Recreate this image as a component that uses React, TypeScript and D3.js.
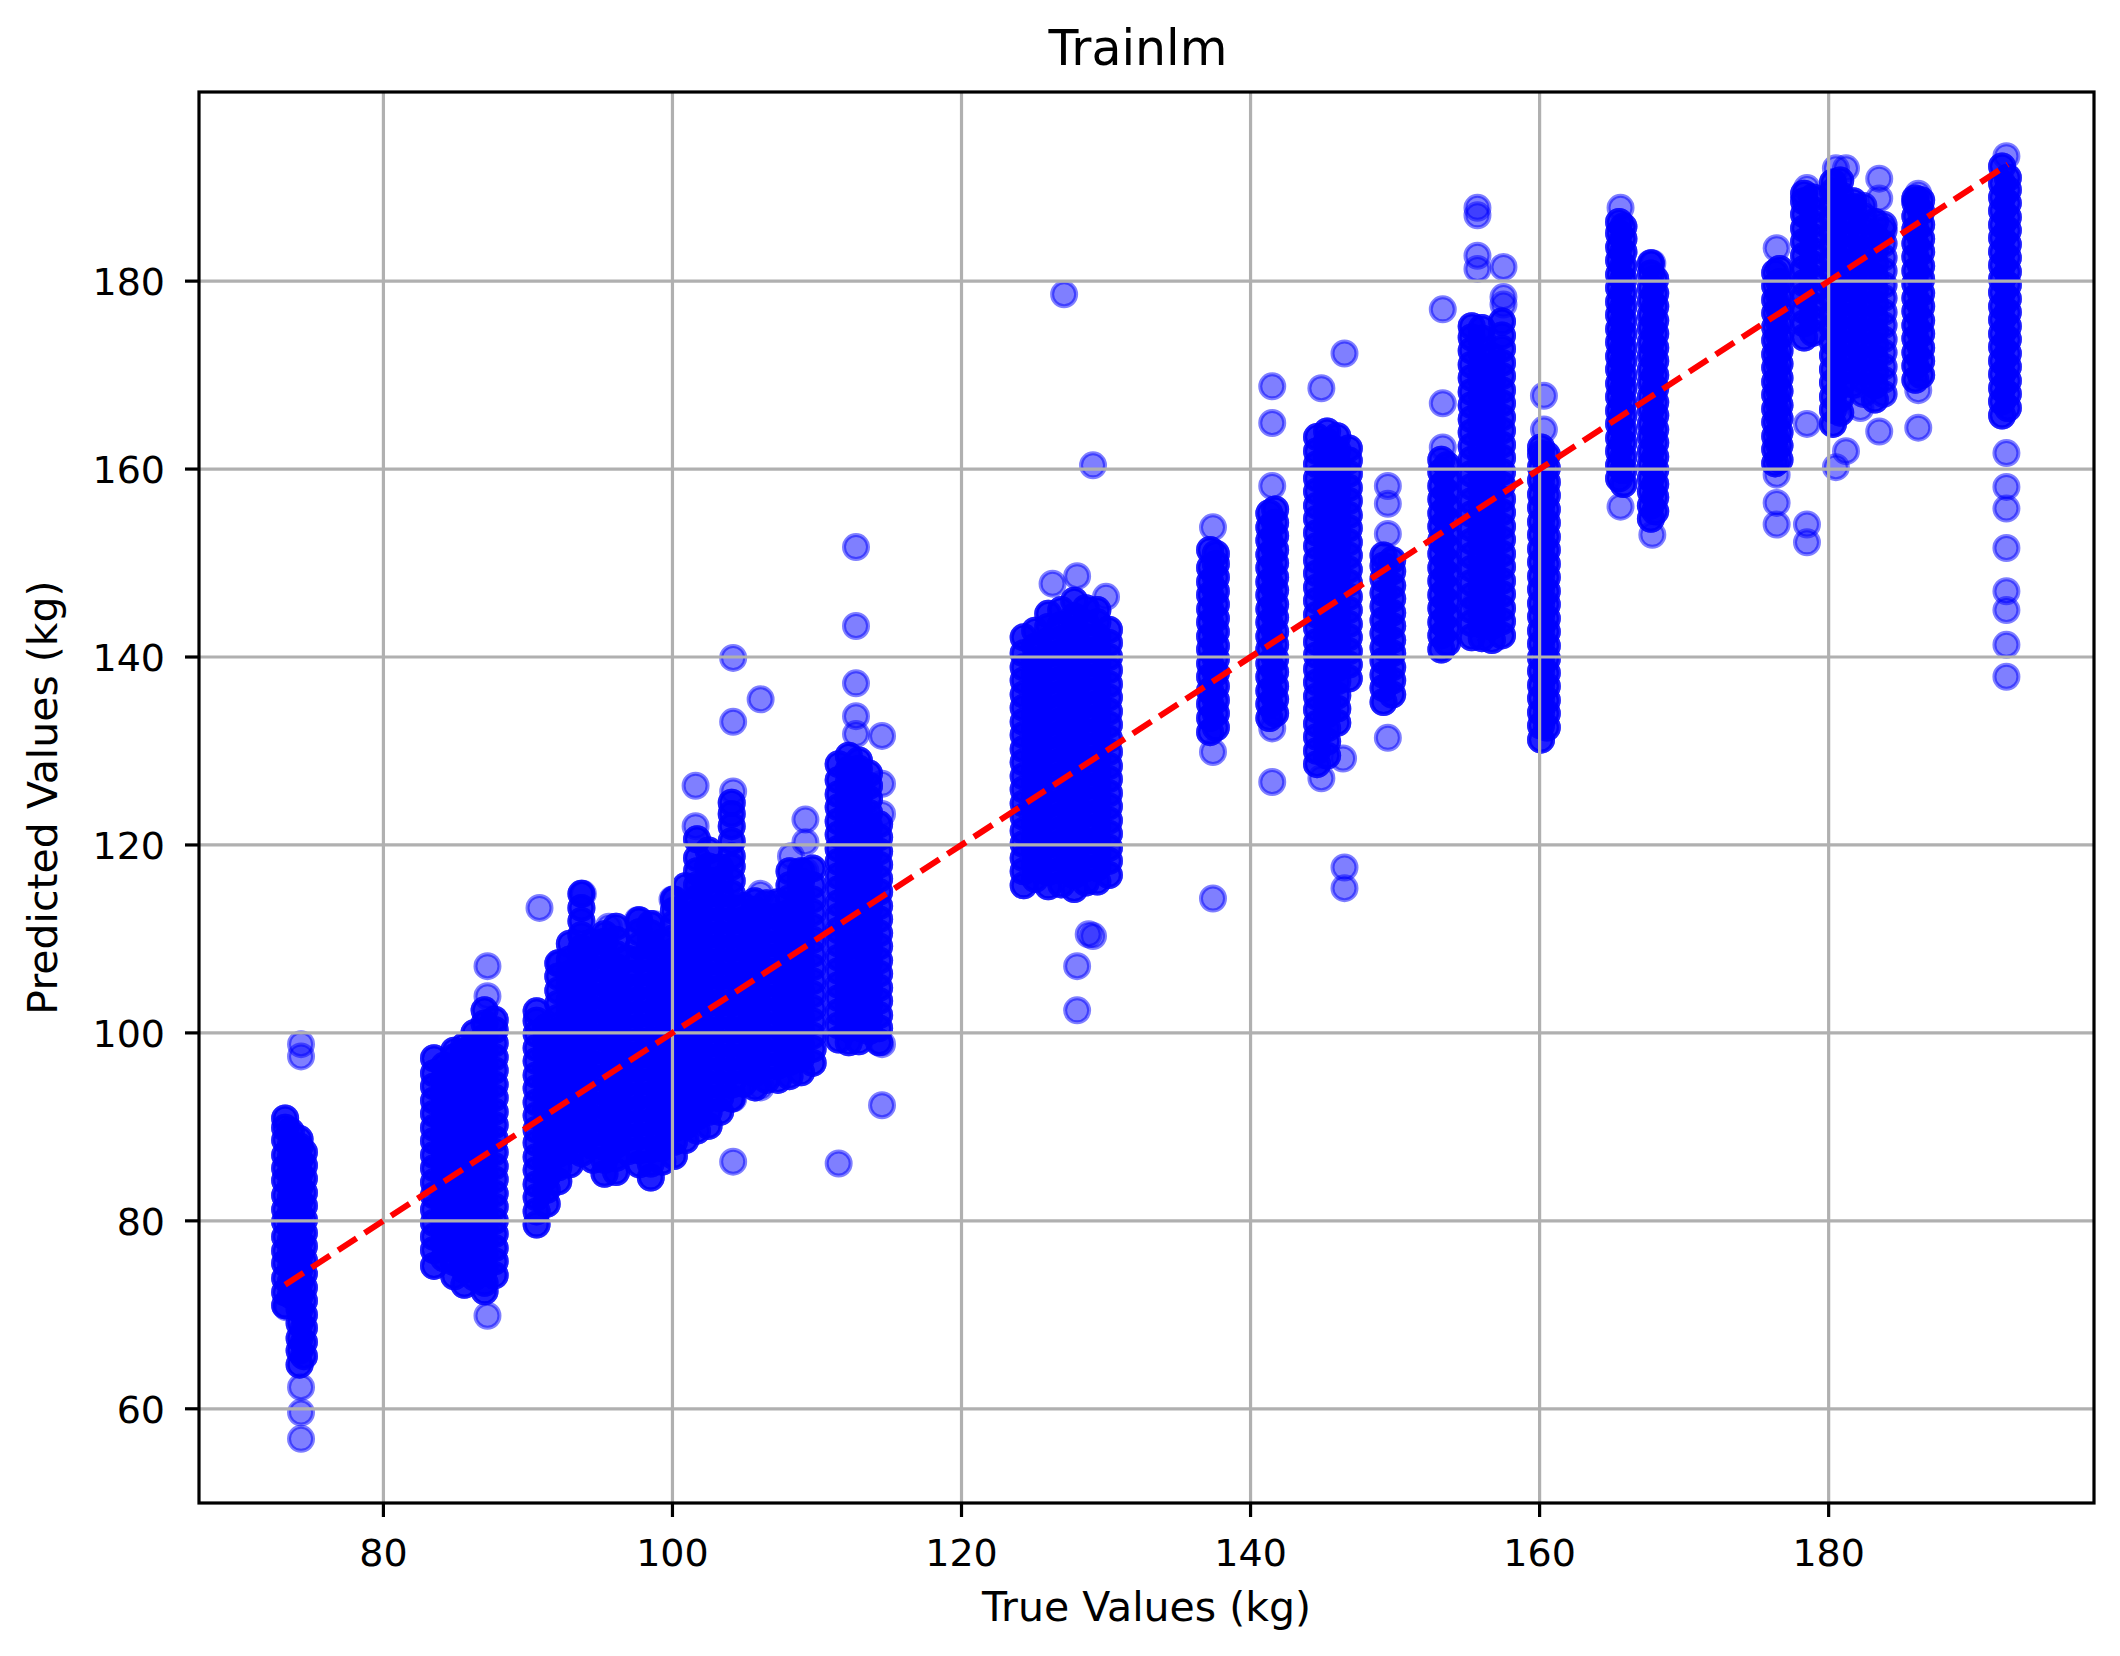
import React from 'react';
import * as d3 from 'd3';

// dense vertical columns: one true value each, with the predicted values
const columnTrue = [
  73.2, 73.6, 74.2, 74.5,
  83.5, 84.2, 84.9, 85.6, 86.3, 87.0, 87.7,
  90.6, 91.3, 92.1, 92.9, 93.7, 94.5, 95.3, 96.1, 96.9, 97.7, 98.5, 99.3, 100.1, 100.9,
  101.7, 102.5, 103.3, 104.1, 104.9, 105.7, 106.5, 107.3, 108.1, 108.9, 109.7,
  111.5, 112.2, 112.9, 113.6, 114.3,
  124.3, 125.1, 126.0, 126.9, 127.8, 128.6, 129.4, 130.2,
  137.2, 137.6, 141.3, 141.7, 144.6, 145.3, 146.0, 146.8, 149.2, 149.8,
  153.2, 153.6, 155.3, 156.0, 156.7, 157.4, 160.1, 160.5,
  165.5, 165.8, 167.7, 168.0, 176.3, 176.6, 178.3, 178.9, 180.3, 180.8,
  181.7, 182.4, 183.2, 183.8, 186.0, 186.4, 192.0, 192.4,
];

// how many observations sit on top of each other at every listed value (overplotting)
const columnStack = [
  3, 3, 3, 3,
  3, 3, 3, 3, 3, 3, 3,
  3, 3, 3, 3, 3, 3, 3, 3, 3, 3, 3, 3, 3, 3,
  3, 3, 3, 3, 3, 3, 3, 3, 3, 3, 3,
  3, 3, 3, 3, 3,
  3, 3, 3, 3, 3, 3, 3, 3,
  3, 3, 3, 3, 3, 3, 3, 3, 3, 3,
  3, 3, 3, 3, 3, 3, 3, 3,
  3, 3, 3, 3, 3, 3, 3, 3, 3, 3,
  3, 2, 3, 2, 3, 3, 3, 3,
];

const columnPred: number[][] = [
  [71.0, 72.4, 73.9, 75.5, 76.8, 78.3, 79.9, 81.2, 82.7, 84.3, 85.6, 87.0, 88.6, 89.9, 90.9],
  [72.1, 73.5, 75.0, 76.6, 78.0, 79.4, 80.9, 82.5, 83.8, 85.2, 86.8, 88.1, 89.5],
  [64.7, 66.2, 67.5, 69.1, 70.6, 72.0, 73.4, 74.9, 76.3, 77.8, 79.2, 80.7, 82.1, 83.6, 85.0, 86.5, 87.9, 88.7],
  [65.6, 67.1, 68.6, 70.0, 71.5, 72.9, 74.4, 75.8, 77.3, 78.7, 80.1, 81.6, 83.0, 84.5, 85.9, 87.3],

  [75.2, 76.9, 78.3, 79.8, 81.2, 82.7, 84.1, 85.6, 87.0, 88.5, 89.9, 91.4, 92.8, 94.3, 95.7, 97.3],
  [76.0, 77.6, 79.0, 80.5, 81.9, 83.4, 84.8, 86.3, 87.7, 89.2, 90.6, 92.1, 93.5, 95.0, 96.5],
  [74.1, 75.6, 77.0, 78.5, 79.9, 81.4, 82.8, 84.3, 85.7, 87.2, 88.6, 90.1, 91.5, 93.0, 94.4, 95.9, 97.4, 98.1],
  [73.2, 74.8, 76.2, 77.7, 79.1, 80.6, 82.0, 83.5, 84.9, 86.4, 87.8, 89.3, 90.7, 92.2, 93.6, 95.1, 96.5, 98.0, 98.6],
  [74.0, 75.5, 76.9, 78.4, 79.8, 81.3, 82.7, 84.2, 85.6, 87.1, 88.5, 90.0, 91.4, 92.9, 94.3, 95.8, 97.2, 98.7, 100.0],
  [72.5, 73.4, 74.9, 76.3, 77.8, 79.2, 80.7, 82.1, 83.6, 85.0, 86.5, 87.9, 89.4, 90.8, 92.3, 93.7, 95.2, 96.6, 98.1, 99.5, 101.0, 102.4],
  [74.2, 75.7, 77.1, 78.6, 80.0, 81.5, 82.9, 84.4, 85.8, 87.3, 88.7, 90.2, 91.6, 93.1, 94.5, 96.0, 97.4, 98.9, 100.3, 101.4],

  [79.6, 81.0, 82.5, 83.9, 85.4, 86.8, 88.3, 89.7, 91.2, 92.6, 94.1, 95.5, 97.0, 98.4, 99.9, 101.3, 102.3],
  [81.8, 83.3, 84.7, 86.2, 87.6, 89.1, 90.5, 92.0, 93.4, 94.9, 96.3, 97.8, 99.2, 100.6],
  [84.2, 85.7, 87.1, 88.6, 90.0, 91.5, 92.9, 94.4, 95.8, 97.3, 98.7, 100.2, 101.6, 103.1, 104.5, 106.0, 107.4],
  [86.0, 87.5, 88.9, 90.4, 91.8, 93.3, 94.7, 96.2, 97.6, 99.1, 100.5, 102.0, 103.4, 104.9, 106.3, 107.8, 109.5],
  [87.2, 88.7, 90.1, 91.6, 93.0, 94.5, 95.9, 97.4, 98.8, 100.3, 101.7, 103.2, 104.6, 106.1, 107.5, 109.0, 110.4, 111.9, 113.3, 114.8],
  [86.5, 88.0, 89.4, 90.9, 92.3, 93.8, 95.2, 96.7, 98.1, 99.6, 101.0, 102.5, 103.9, 105.4, 106.8, 108.3, 109.6],
  [85.0, 86.5, 87.9, 89.4, 90.8, 92.3, 93.7, 95.2, 96.6, 98.1, 99.5, 101.0, 102.4, 103.9, 105.3, 106.8, 108.2, 109.7, 110.5],
  [85.2, 86.7, 88.1, 89.6, 91.0, 92.5, 93.9, 95.4, 96.8, 98.3, 99.7, 101.2, 102.6, 104.1, 105.5, 107.0, 108.4, 109.9, 111.3],
  [87.4, 88.9, 90.3, 91.8, 93.2, 94.7, 96.1, 97.6, 99.0, 100.5, 101.9, 103.4, 104.8, 106.3, 107.9],
  [86.0, 87.5, 89.0, 90.4, 91.9, 93.3, 94.8, 96.2, 97.7, 99.1, 100.6, 102.0, 103.5, 104.9, 106.4, 107.8, 109.3, 110.7, 112.0],
  [84.6, 86.1, 87.6, 89.0, 90.5, 91.9, 93.4, 94.8, 96.3, 97.7, 99.2, 100.6, 102.1, 103.5, 105.0, 106.4, 107.9, 109.3, 110.6, 111.6],
  [86.3, 87.8, 89.2, 90.7, 92.1, 93.6, 95.0, 96.5, 97.9, 99.4, 100.8, 102.3, 103.7, 105.2, 106.6, 108.1, 109.6],
  [86.9, 88.4, 89.8, 91.3, 92.7, 94.2, 95.6, 97.1, 98.5, 100.0, 101.4, 102.9, 104.3, 105.8, 107.2, 108.7, 110.1, 111.6, 113.0, 114.2],
  [88.6, 90.1, 91.5, 93.0, 94.4, 95.9, 97.3, 98.8, 100.2, 101.7, 103.1, 104.6, 106.0, 107.5, 108.9, 110.4, 111.8, 113.5, 115.6],
  [89.6, 91.1, 92.5, 94.0, 95.4, 96.9, 98.3, 99.8, 101.2, 102.7, 104.1, 105.6, 107.0, 108.5, 109.9, 111.4, 112.8, 114.3, 115.7, 117.2, 118.6, 120.6],
  [90.1, 91.6, 93.0, 94.5, 95.9, 97.4, 98.8, 100.3, 101.7, 103.2, 104.6, 106.1, 107.5, 109.0, 110.4, 111.9, 113.3, 114.8, 116.2, 117.7, 119.4],
  [91.6, 93.1, 94.5, 96.0, 97.4, 98.9, 100.3, 101.8, 103.2, 104.7, 106.1, 107.6, 109.0, 110.5, 111.9, 113.4, 114.8, 116.3, 117.6],
  [93.0, 94.5, 95.9, 97.4, 98.8, 100.3, 101.7, 103.2, 104.6, 106.1, 107.5, 109.0, 110.4, 111.9, 113.3, 114.8, 116.2, 117.7, 118.8, 120.4, 122.0, 123.3, 124.5],
  [94.6, 96.1, 97.5, 99.0, 100.4, 101.9, 103.3, 104.8, 106.2, 107.7, 109.1, 110.6, 112.0, 113.5],
  [94.2, 95.7, 97.1, 98.6, 100.0, 101.5, 102.9, 104.4, 105.8, 107.3, 108.7, 110.2, 111.6, 113.1, 114.0],
  [95.0, 96.5, 97.9, 99.4, 100.8, 102.3, 103.7, 105.2, 106.6, 108.1, 109.5, 111.0, 112.4, 113.8],
  [95.0, 96.5, 97.9, 99.4, 100.8, 102.3, 103.7, 105.2, 106.6, 108.1, 109.5, 111.0, 112.4, 113.9],
  [95.4, 96.9, 98.3, 99.8, 101.2, 102.7, 104.1, 105.6, 107.0, 108.5, 109.9, 111.4, 112.8, 114.3, 115.7, 117.2],
  [95.8, 97.3, 98.7, 100.2, 101.6, 103.1, 104.5, 106.0, 107.4, 108.9, 110.3, 111.8, 113.2, 114.7, 116.1, 117.2],
  [96.8, 98.3, 99.7, 101.2, 102.6, 104.1, 105.5, 107.0, 108.4, 109.9, 111.3, 112.8, 114.2, 115.7, 117.5],

  [99.3, 100.8, 102.2, 103.7, 105.1, 106.6, 108.0, 109.5, 110.9, 112.4, 113.8, 115.3, 116.7, 118.2, 119.6, 121.1, 122.5, 124.0, 125.4, 126.9, 128.6],
  [99.0, 100.5, 101.9, 103.4, 104.8, 106.3, 107.7, 109.2, 110.6, 112.1, 113.5, 115.0, 116.4, 117.9, 119.3, 120.8, 122.2, 123.7, 125.1, 126.6, 128.0, 129.5],
  [99.1, 100.6, 102.0, 103.5, 104.9, 106.4, 107.8, 109.3, 110.7, 112.2, 113.6, 115.1, 116.5, 118.0, 119.4, 120.9, 122.3, 123.8, 125.2, 126.7, 128.1, 129.0],
  [100.2, 101.7, 103.1, 104.6, 106.0, 107.5, 108.9, 110.4, 111.8, 113.3, 114.7, 116.2, 117.6, 119.1, 120.5, 122.0, 123.4, 124.9, 126.3, 127.6],
  [99.0, 100.5, 101.9, 103.4, 104.8, 106.3, 107.7, 109.2, 110.6, 112.1, 113.5, 115.0, 116.4, 117.9, 119.3, 120.8, 122.2],

  [115.7, 117.2, 118.6, 120.1, 121.5, 123.0, 124.4, 125.9, 127.3, 128.8, 130.2, 131.7, 133.1, 134.6, 136.0, 137.5, 138.9, 140.4, 142.1],
  [116.4, 117.9, 119.3, 120.8, 122.2, 123.7, 125.1, 126.6, 128.0, 129.5, 130.9, 132.4, 133.8, 135.3, 136.7, 138.2, 139.6, 141.1, 142.8],
  [115.6, 117.1, 118.5, 120.0, 121.4, 122.9, 124.3, 125.8, 127.2, 128.7, 130.1, 131.6, 133.0, 134.5, 135.9, 137.4, 138.8, 140.3, 141.7, 143.2, 144.6],
  [115.8, 117.3, 118.7, 120.2, 121.6, 123.1, 124.5, 126.0, 127.4, 128.9, 130.3, 131.8, 133.2, 134.7, 136.1, 137.6, 139.0, 140.5, 141.9, 143.4, 145.0],
  [115.3, 116.8, 118.2, 119.7, 121.1, 122.6, 124.0, 125.5, 126.9, 128.4, 129.8, 131.3, 132.7, 134.2, 135.6, 137.1, 138.5, 140.0, 141.4, 142.9, 144.3, 146.0],
  [116.0, 117.5, 118.9, 120.4, 121.8, 123.3, 124.7, 126.2, 127.6, 129.1, 130.5, 132.0, 133.4, 134.9, 136.3, 137.8, 139.2, 140.7, 142.1, 143.6, 145.2],
  [116.1, 117.6, 119.0, 120.5, 121.9, 123.4, 124.8, 126.3, 127.7, 129.2, 130.6, 132.1, 133.5, 135.0, 136.4, 137.9, 139.3, 140.8, 142.2, 143.7, 145.0],
  [116.8, 118.3, 119.7, 121.2, 122.6, 124.1, 125.5, 127.0, 128.4, 129.9, 131.3, 132.8, 134.2, 135.7, 137.1, 138.6, 140.0, 141.5, 142.9],

  [132.0, 133.5, 135.0, 136.4, 137.9, 139.3, 140.8, 142.2, 143.7, 145.1, 146.6, 148.0, 149.5, 151.4],
  [132.5, 134.0, 135.4, 136.9, 138.3, 139.8, 141.2, 142.7, 144.1, 145.6, 147.0, 148.5, 149.9, 151.0],
  [133.5, 135.0, 136.4, 137.9, 139.3, 140.8, 142.2, 143.7, 145.1, 146.6, 148.0, 149.5, 150.9, 152.4, 153.8, 155.3],
  [134.0, 135.5, 136.9, 138.4, 139.8, 141.3, 142.7, 144.2, 145.6, 147.1, 148.5, 150.0, 151.4, 152.9, 154.3, 155.7],
  [128.6, 130.0, 131.5, 132.9, 134.4, 135.8, 137.3, 138.7, 140.2, 141.6, 143.1, 144.5, 146.0, 147.4, 148.9, 150.3, 151.8, 153.2, 154.7, 156.1, 157.6, 159.0, 160.5, 161.9, 163.4],
  [129.5, 131.0, 132.4, 133.9, 135.3, 136.8, 138.2, 139.7, 141.1, 142.6, 144.0, 145.5, 146.9, 148.4, 149.8, 151.3, 152.7, 154.2, 155.6, 157.1, 158.5, 160.0, 161.4, 162.9, 164.0],
  [133.0, 134.5, 135.9, 137.4, 138.8, 140.3, 141.7, 143.2, 144.6, 146.1, 147.5, 149.0, 150.4, 151.9, 153.3, 154.8, 156.2, 157.7, 159.1, 160.6, 162.0, 163.5],
  [137.7, 139.2, 140.6, 142.1, 143.5, 145.0, 146.4, 147.9, 149.3, 150.8, 152.2, 153.7, 155.1, 156.6, 158.0, 159.5, 160.9, 162.2],
  [135.2, 136.7, 138.1, 139.6, 141.0, 142.5, 143.9, 145.4, 146.8, 148.3, 149.7, 150.8],
  [136.0, 137.5, 138.9, 140.4, 141.8, 143.3, 144.7, 146.2, 147.6, 149.1, 150.3],

  [140.8, 142.3, 143.7, 145.2, 146.6, 148.1, 149.5, 151.0, 152.4, 153.9, 155.3, 156.8, 158.2, 159.7, 161.0],
  [141.5, 143.0, 144.4, 145.9, 147.3, 148.8, 150.2, 151.7, 153.1, 154.6, 156.0, 157.5, 158.9, 160.4],
  [142.1, 143.6, 145.0, 146.5, 147.9, 149.4, 150.8, 152.3, 153.7, 155.2, 156.6, 158.1, 159.5, 161.0, 162.4, 163.9, 165.3, 166.8, 168.2, 169.7, 171.1, 172.6, 174.0, 175.2],
  [142.0, 143.5, 144.9, 146.4, 147.8, 149.3, 150.7, 152.2, 153.6, 155.1, 156.5, 158.0, 159.4, 160.9, 162.3, 163.8, 165.2, 166.7, 168.1, 169.6, 171.0, 172.5, 173.9, 175.0],
  [141.8, 143.3, 144.7, 146.2, 147.6, 149.1, 150.5, 152.0, 153.4, 154.9, 156.3, 157.8, 159.2, 160.7, 162.1, 163.6, 165.0, 166.5, 167.9, 169.4, 170.8, 172.0],
  [142.3, 143.8, 145.2, 146.7, 148.1, 149.6, 151.0, 152.5, 153.9, 155.4, 156.8, 158.3, 159.7, 161.2, 162.6, 164.1, 165.5, 167.0, 168.4, 169.9, 171.3, 172.8, 174.2, 175.7],
  [131.2, 132.7, 134.1, 135.6, 137.0, 138.5, 139.9, 141.4, 142.8, 144.3, 145.7, 147.2, 148.6, 150.1, 151.5, 153.0, 154.4, 155.9, 157.3, 158.8, 160.2, 161.6, 162.3],
  [132.5, 134.0, 135.4, 136.9, 138.3, 139.8, 141.2, 142.7, 144.1, 145.6, 147.0, 148.5, 149.9, 151.4, 152.8, 154.3, 155.7, 157.2, 158.6, 160.1, 161.5],

  [159.0, 160.4, 161.9, 163.3, 164.8, 166.2, 167.7, 169.1, 170.6, 172.0, 173.5, 174.9, 176.4, 177.8, 179.3, 180.7, 182.2, 183.6, 185.1, 186.3],
  [158.4, 159.9, 161.3, 162.8, 164.2, 165.7, 167.1, 168.6, 170.0, 171.5, 172.9, 174.4, 175.8, 177.3, 178.7, 180.2, 181.6, 183.1, 184.5, 185.8],
  [154.7, 156.1, 157.6, 159.0, 160.5, 161.9, 163.4, 164.8, 166.3, 167.7, 169.2, 170.6, 172.1, 173.5, 175.0, 176.4, 177.9, 179.3, 180.8, 181.9],
  [155.5, 157.0, 158.4, 159.9, 161.3, 162.8, 164.2, 165.7, 167.1, 168.6, 170.0, 171.5, 172.9, 174.4, 175.8, 177.3, 178.7, 180.2],
  [160.6, 162.1, 163.5, 165.0, 166.4, 167.9, 169.3, 170.8, 172.2, 173.7, 175.1, 176.6, 178.0, 179.5, 180.9],
  [161.0, 162.5, 163.9, 165.4, 166.8, 168.3, 169.7, 171.2, 172.6, 174.1, 175.5, 177.0, 178.4, 179.9, 181.3],
  [174.0, 175.5, 176.9, 178.4, 179.8, 181.3, 182.7, 184.2, 185.6, 187.1, 188.5, 189.3],
  [174.5, 176.0, 177.4, 178.9, 180.3, 181.8, 183.2, 184.7, 186.1, 187.6, 188.9],
  [164.8, 166.3, 167.7, 169.2, 170.6, 172.1, 173.5, 175.0, 176.4, 177.9, 179.3, 180.8, 182.2, 183.7, 185.1, 186.6, 188.0, 189.5, 190.5],
  [166.0, 167.5, 168.9, 170.4, 171.8, 173.3, 174.7, 176.2, 177.6, 179.1, 180.5, 182.0, 183.4, 184.9, 186.3, 187.8, 189.2, 190.7],
  [169.0, 170.5, 171.9, 173.4, 174.8, 176.3, 177.7, 179.2, 180.6, 182.1, 183.5, 185.0, 186.4, 187.9, 188.5],
  [168.0, 169.5, 170.9, 172.4, 173.8, 175.3, 176.7, 178.2, 179.6, 181.1, 182.5, 184.0, 185.4, 186.9, 188.0],
  [167.4, 168.9, 170.3, 171.8, 173.2, 174.7, 176.1, 177.6, 179.0, 180.5, 181.9, 183.4, 184.8, 186.3],
  [168.0, 169.5, 170.9, 172.4, 173.8, 175.3, 176.7, 178.2, 179.6, 181.1, 182.5, 184.0, 185.4, 186.0],
  [169.5, 171.0, 172.4, 173.9, 175.3, 176.8, 178.2, 179.7, 181.1, 182.6, 184.0, 185.5, 186.9, 188.4, 188.8],
  [170.0, 171.5, 172.9, 174.4, 175.8, 177.3, 178.7, 180.2, 181.6, 183.1, 184.5, 186.0, 187.4, 188.6],
  [165.7, 167.2, 168.6, 170.1, 171.5, 173.0, 174.4, 175.9, 177.3, 178.8, 180.2, 181.7, 183.1, 184.6, 186.0, 187.5, 188.9, 190.4, 192.2],
  [166.5, 168.0, 169.4, 170.9, 172.3, 173.8, 175.2, 176.7, 178.1, 179.6, 181.0, 182.5, 183.9, 185.4, 186.8, 188.3, 189.7, 191.0],
];

// scattered single points away from the dense columns
const outlierTrue = [
  74.3, 74.3, 74.3, 74.3, 74.3, 73.3,
  87.2, 87.2, 87.2, 90.8, 92.2, 93.8, 95.6, 97.6, 98.7, 100.0,
  101.6, 101.6, 104.2, 104.2, 104.2, 104.2, 104.2, 106.1, 106.1, 106.1,
  109.2, 109.2, 109.2, 108.2, 111.5,
  112.7, 112.7, 112.7, 112.7, 112.7, 114.5, 114.5, 114.5, 114.5, 114.5,
  127.1, 129.1, 129.1, 128.0, 128.0, 128.0, 126.3, 130.0, 128.8,
  137.4, 137.4, 137.4, 141.5, 141.5, 141.5, 141.5, 141.5, 144.9, 144.9,
  146.5, 146.4, 146.5, 146.5, 149.5, 149.5, 149.5, 149.5,
  153.3, 153.3, 153.3, 155.7, 155.7, 155.7, 155.7, 155.6, 157.5, 157.5, 157.5,
  160.3, 160.3, 165.6, 165.6, 167.8, 167.8,
  176.4, 176.4, 176.4, 176.4, 178.5, 178.5, 178.5, 178.5,
  180.5, 180.5, 181.2, 181.2, 182.2, 183.5, 183.5, 183.5, 186.2, 186.2, 186.2,
  192.3, 192.3, 192.3, 192.3, 192.3, 192.3, 192.3, 192.3, 192.3,
];

const outlierPred = [
  98.8, 97.5, 62.3, 59.6, 56.8, 70.8,
  107.1, 103.9, 69.9, 113.3, 107.4, 114.8, 111.3, 112.0, 111.6, 114.2,
  126.3, 122.0, 139.9, 133.1, 125.7, 86.3, 93.0, 135.5, 114.8, 94.2,
  122.7, 120.3, 117.2, 118.8, 86.1,
  151.7, 143.3, 137.2, 133.7, 131.8, 131.6, 126.5, 123.3, 98.8, 92.3,
  178.6, 160.4, 110.3, 107.1, 102.4, 148.6, 147.8, 146.4, 110.5,
  153.8, 129.9, 114.3, 168.8, 164.9, 158.2, 132.4, 126.7, 168.6, 127.1,
  172.3, 129.2, 117.6, 115.4, 158.2, 156.3, 153.1, 131.4,
  177.0, 167.0, 162.3, 187.8, 187.0, 182.7, 181.3, 145.7, 181.5, 178.3, 177.5,
  167.8, 164.2, 187.8, 156.0, 181.9, 153.0,
  183.5, 159.4, 156.4, 154.1, 189.9, 164.8, 154.1, 152.2,
  192.0, 160.2, 192.0, 161.9, 166.5, 190.9, 188.8, 164.0, 189.3, 168.4, 164.4,
  193.3, 161.7, 158.1, 155.8, 151.6, 147.0, 145.0, 141.3, 137.9,
];

const xTicks = [80, 100, 120, 140, 160, 180];
const yTicks = [60, 80, 100, 120, 140, 160, 180];

const width = 2120;
const height = 1656;
const margin = { top: 92, right: 26, bottom: 153, left: 199 };
const font = '"DejaVu Sans", sans-serif';

export default function App() {
  const points: [number, number][] = [];
  columnTrue.forEach((t, i) => {
    columnPred[i].forEach((p) => {
      for (let k = 0; k < columnStack[i]; k++) points.push([t, p]);
    });
  });
  outlierTrue.forEach((t, i) => points.push([t, outlierPred[i]]));

  // matplotlib style 5% padding around the data
  const [x0, x1] = d3.extent(points, (d) => d[0]) as [number, number];
  const [y0, y1] = d3.extent(points, (d) => d[1]) as [number, number];
  const xPad = (x1 - x0) * 0.05;
  const yPad = (y1 - y0) * 0.05;

  const x = d3.scaleLinear()
    .domain([x0 - xPad, x1 + xPad])
    .range([margin.left, width - margin.right]);
  const y = d3.scaleLinear()
    .domain([y0 - yPad, y1 + yPad])
    .range([height - margin.bottom, margin.top]);

  const lineEnds: [number, number][] = [[x0, x0], [x1, x1]];
  const diag = d3.line<[number, number]>()
    .x((d) => x(d[0]))
    .y((d) => y(d[1]));

  const left = margin.left;
  const right = width - margin.right;
  const top = margin.top;
  const bottom = height - margin.bottom;

  return (
    <div style={{ position: 'absolute', left: 0, top: 0 }}>
      <svg width={width} height={height} style={{ display: 'block', background: '#fff' }}>
        <rect x={0} y={0} width={width} height={height} fill="#fff" />

        <g>
          {points.map((d, i) => (
            <circle
              key={i}
              cx={x(d[0])}
              cy={y(d[1])}
              r={12}
              fill="#0000ff"
              fillOpacity={0.5}
              stroke="#0000ff"
              strokeOpacity={0.5}
              strokeWidth={4}
            />
          ))}
        </g>

        {/* grid */}
        <g stroke="#b0b0b0" strokeWidth={3.2}>
          {xTicks.map((t) => (
            <line key={'gx' + t} x1={x(t)} x2={x(t)} y1={top} y2={bottom} />
          ))}
          {yTicks.map((t) => (
            <line key={'gy' + t} x1={left} x2={right} y1={y(t)} y2={y(t)} />
          ))}
        </g>

        <path
          d={diag(lineEnds) || ''}
          fill="none"
          stroke="#ff0000"
          strokeWidth={6}
          strokeDasharray="22 9.6"
        />

        {/* spines */}
        <rect x={left} y={top} width={right - left} height={bottom - top}
          fill="none" stroke="#000" strokeWidth={3.2} />

        {/* ticks */}
        <g stroke="#000" strokeWidth={3.2}>
          {xTicks.map((t) => (
            <line key={'tx' + t} x1={x(t)} x2={x(t)} y1={bottom} y2={bottom + 14} />
          ))}
          {yTicks.map((t) => (
            <line key={'ty' + t} x1={left - 14} x2={left} y1={y(t)} y2={y(t)} />
          ))}
        </g>
        <g fontFamily={font} fontSize={38} fill="#000">
          {xTicks.map((t) => (
            <text key={'lx' + t} x={x(t)} y={bottom + 63} textAnchor="middle">{t}</text>
          ))}
          {yTicks.map((t) => (
            <text key={'ly' + t} x={left - 34} y={y(t) + 14} textAnchor="end">{t}</text>
          ))}
        </g>

        <text x={(left + right) / 2} y={1621} textAnchor="middle" fontFamily={font} fontSize={41}>
          True Values (kg)
        </text>
        <text
          transform={`translate(57, ${(top + bottom) / 2}) rotate(-90)`}
          textAnchor="middle" fontFamily={font} fontSize={41}
        >
          Predicted Values (kg)
        </text>
        <text x={1138} y={65} textAnchor="middle" fontFamily={font} fontSize={49}>
          Trainlm
        </text>
      </svg>
    </div>
  );
}
